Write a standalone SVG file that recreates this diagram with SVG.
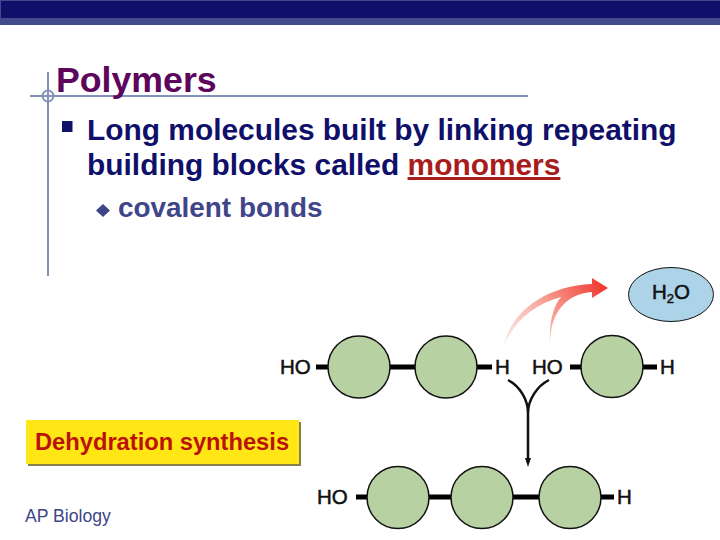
<svg xmlns="http://www.w3.org/2000/svg" width="720" height="540" viewBox="0 0 720 540">
<style>
text{font-family:"Liberation Sans",Arial,sans-serif;font-weight:bold}
.b{font-size:29.900px;fill:#10106b}
.s{font-size:27.900px;fill:#40458a}
.l{font-size:20.500px;fill:#111;font-weight:normal;stroke:#111;stroke-width:.5px}
.m{fill:#b7d1a3;stroke:#111;stroke-width:1.5}
.r{stroke:#000;stroke-width:5;fill:none}
.g{stroke:#8491b8;stroke-width:2;fill:none}
</style>
<defs>
<linearGradient id="red" gradientUnits="userSpaceOnUse" x1="505" y1="345" x2="605" y2="285">
<stop offset="0" stop-color="#f8d8d0" stop-opacity=".6"/><stop offset=".45" stop-color="#f7a79c"/><stop offset="1" stop-color="#f0372e"/>
</linearGradient>
</defs>
<rect width="720" height="25" fill="#414a8c"/>
<rect x="1" y="1" width="719" height="17" fill="#10106b"/>
<g id="decor">
<path class="g" d="M48 72V276M30 96H528"/>
<circle class="g" cx="48" cy="96" r="5.500" stroke-width="1"/>
</g>
<g id="title"><text x="56" y="92" style="font-size:35.700px" fill="#5c065c">Polymers</text></g>
<g id="body">
<rect x="62" y="121" width="10.500" height="11" fill="#10106b"/>
<text class="b" x="87" y="140">Long molecules built by linking repeating</text>
<text class="b" x="87" y="175">building blocks called <tspan fill="#a81c1c" text-decoration="underline">monomers</tspan></text>
<path d="M103 204l7 6.500-7 6.500-7-6.500z" fill="#40458a"/>
<text class="s" x="118" y="217">covalent bonds</text>
</g>
<g id="connectors">
<path class="r" d="M316 367h14M390 367h26M476 367h16M570 367h12M642 367h15M356 497h12M428 497h26M512 497h28M600 497h14"/>
<path d="M504 345C511 312 545 286 592 284L592 278L608 288L592 298L592 292C566 294 550 312 550 345C549 325 552 308 561 297C535 304 515 320 504 345Z" fill="url(#red)"/>
<path d="M508 380C520 386 528 400 528 413C528 400 537 386 549 380M528 413V460" fill="none" stroke="#111" stroke-width="2.500"/>
<path d="M525 458L528 467L531 458Z" fill="#111"/>
</g>
<g id="n1"><circle class="m" cx="359" cy="367" r="31"/></g>
<g id="n2"><circle class="m" cx="446" cy="367" r="31"/></g>
<g id="n3"><circle class="m" cx="612" cy="366.500" r="31"/></g>
<g id="n4"><circle class="m" cx="398" cy="497.500" r="31"/></g>
<g id="n5"><circle class="m" cx="482" cy="497.500" r="31"/></g>
<g id="n6"><circle class="m" cx="570" cy="497.500" r="31"/></g>
<g id="water">
<ellipse cx="671" cy="294.500" rx="42.500" ry="27" fill="#add3e8" stroke="#111" stroke-width="1"/>
<text class="l" x="652" y="299">H<tspan font-size="13" dy="4">2</tspan><tspan dy="-4">O</tspan></text>
</g>
<g id="labels">
<text class="l" x="280" y="374">HO</text>
<text class="l" x="495" y="374">H</text>
<text class="l" x="532" y="374">HO</text>
<text class="l" x="660" y="374">H</text>
<text class="l" x="317" y="504">HO</text>
<text class="l" x="617" y="504">H</text>
</g>
<g id="tag">
<rect x="28" y="422" width="273" height="44" fill="#8a8148"/>
<rect x="26" y="420" width="273" height="44" fill="#ffe614"/>
<text x="35" y="450" style="font-size:23.700px" fill="#bb1208">Dehydration synthesis</text>
</g>
<g id="footer"><text x="25" y="522" style="font-size:17.600px;font-weight:normal" fill="#40458a">AP Biology</text></g>
</svg>
